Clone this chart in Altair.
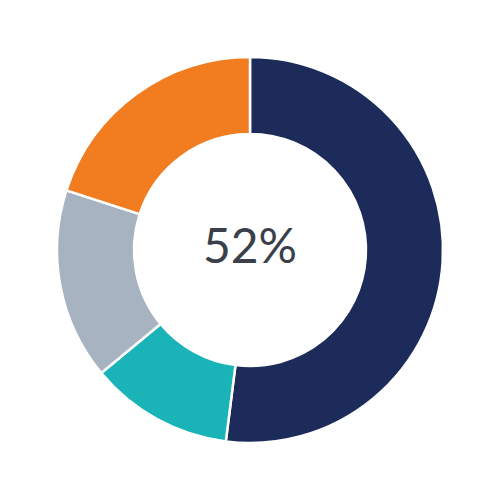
import altair as alt
import pandas as pd

segments = ["Navy", "Teal", "Gray", "Orange"]
shares = [52, 12, 16, 20]
colors = ["#1c2b5a", "#1ab4b8", "#a8b3c1", "#f27d21"]
center_label = ["52%"]

data = pd.DataFrame({"segment": segments, "share": shares, "rank": list(range(len(segments)))})

donut = alt.Chart(data).mark_arc(
    innerRadius=116, outerRadius=193, stroke="white", strokeWidth=2.5
).encode(
    alt.Theta("share:Q").stack(True),
    alt.Color("segment:N", legend=None).scale(domain=segments, range=colors),
    alt.Order("rank:Q"),
)

text = alt.Chart(pd.DataFrame({"label": center_label})).mark_text(
    font="Lato", fontSize=48, color="#3a3f4a", baseline="middle"
).encode(
    text="label:N",
    x=alt.value(242),
    y=alt.value(241),
)

chart = (donut + text).properties(
    width=484, height=484, padding=0, autosize="none"
).configure_view(stroke=None)

chart.save("out.html", embed_options={"renderer": "svg", "actions": False})
